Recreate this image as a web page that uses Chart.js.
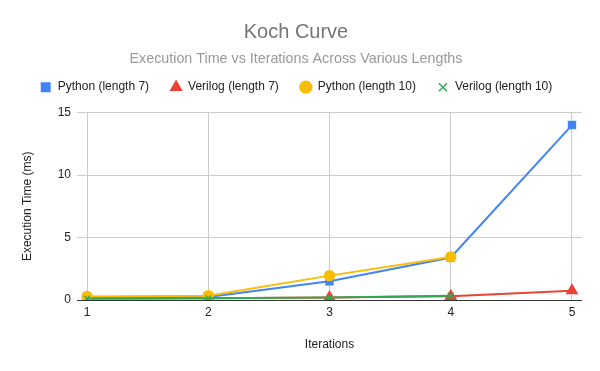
<!DOCTYPE html>
<html><head><meta charset="utf-8">
<script src="https://cdn.jsdelivr.net/npm/chart.js@4/dist/chart.umd.min.js"></script>
<style>html,body{margin:0;padding:0;background:#fff}#wrap{width:600px;height:371px}</style>
</head><body><div id="wrap"><canvas id="c"></canvas></div>
<script>
const iterations = [1, 2, 3, 4, 5];
const pythonLen7 = [0.2, 0.25, 1.5, 3.4, 14.0];
const verilogLen7 = [0.1, 0.15, 0.2, 0.3, 0.75];
const pythonLen10 = [0.28, 0.35, 1.95, 3.45, null];
const verilogLen10 = [0.12, 0.15, 0.2, 0.35, null];
const yTicks = [0, 5, 10, 15];

function pts(vals){ return iterations.map((x,i)=>({x:x,y:vals[i]})).filter(p=>p.y!==null); }
const F = 'Arial, "Liberation Sans", sans-serif';

const legendSpacer = {
  id:'legendSpacer',
  beforeLayout(chart){
    const lg = chart.legend;
    if (lg && !lg._spPatched){
      const orig = lg.fit;
      lg.fit = function(){ orig.call(this); this.height += 2.4; };
      lg._spPatched = true;
    }
  },
  afterLayout(chart){
    if (chart.legend) chart.legend.top -= 7;
  }
};

new Chart(document.getElementById('c'), {
  type: 'line',
  plugins:[legendSpacer],
  data: {
    datasets: [
      {label:'Python (length 7)', data: pts(pythonLen7), borderColor:'#4285F4', backgroundColor:'#4285F4', pointStyle:'rect', pointRadius:4.5, borderWidth:2, order:4},
      {label:'Verilog (length 7)', data: pts(verilogLen7), borderColor:'#EA4335', backgroundColor:'#EA4335', pointStyle:'triangle', pointRadius:5.4, borderWidth:2, order:3},
      {label:'Python (length 10)', data: pts(pythonLen10), borderColor:'#FBBC04', backgroundColor:'#FBBC04', pointStyle:'circle', pointRadius:4.7, borderWidth:2, order:2},
      {label:'Verilog (length 10)', data: pts(verilogLen10), borderColor:'#34A853', backgroundColor:'#34A853', pointStyle:'crossRot', pointRadius:4, pointBorderWidth:1.5, borderWidth:2, order:1}
    ]
  },
  options: {
    responsive:true, maintainAspectRatio:false, animation:false,
    layout:{padding:{left:10,right:18,top:14,bottom:10}},
    plugins:{
      tooltip:{enabled:false},
      title:{display:true,text:'Koch Curve',color:'#757575',font:{family:F,size:20,weight:'normal'},padding:{top:6,bottom:6}},
      subtitle:{display:true,text:'Execution Time vs Iterations Across Various Lengths',color:'#999999',font:{family:F,size:14.3,weight:'normal'},padding:{bottom:0}},
      legend:{position:'top',labels:{usePointStyle:true,boxWidth:12,boxHeight:8,color:'#222',font:{family:F,size:12},padding:21,
        sort:(a,b)=>a.datasetIndex-b.datasetIndex}}
    },
    scales:{
      x:{type:'linear',min:0.9175,max:5.0825,
        afterBuildTicks:(s)=>{s.ticks=iterations.map(v=>({value:v}));},
        afterFit:(s)=>{s.height=61;},
        grid:{color:'#cccccc',drawTicks:false},border:{display:false},
        ticks:{color:'#222',font:{family:F,size:12},padding:5},
        title:{display:true,text:'Iterations',color:'#222',font:{family:F,size:12},padding:{top:0,bottom:9}}},
      y:{min:0,max:15,
        afterBuildTicks:(s)=>{s.ticks=yTicks.map(v=>({value:v}));},
        afterFit:(s)=>{s.width=67;},
        grid:{color:(c)=>c.tick&&c.tick.value===0?'#333333':'#cccccc',drawTicks:false},border:{display:false},
        ticks:{color:'#222',font:{family:F,size:12},padding:6},
        title:{display:true,text:'Execution Time (ms)',color:'#222',font:{family:F,size:12},padding:{top:10,bottom:0}}}
    }
  }
});
</script></body></html>
